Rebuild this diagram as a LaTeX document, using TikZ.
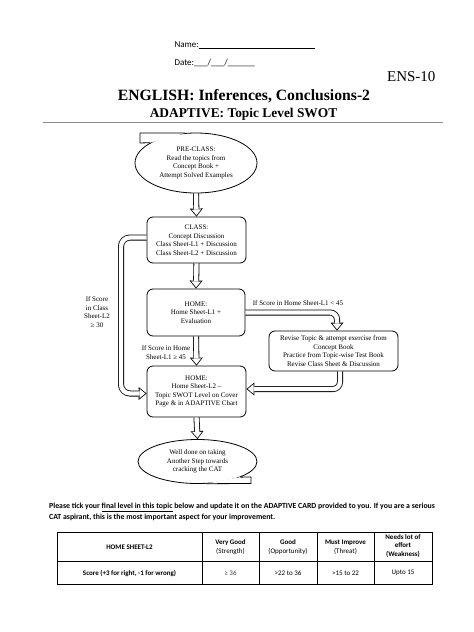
\documentclass[tikz,border=0pt]{standalone}
\usepackage{fontspec}
\setmainfont{Liberation Serif}
\newfontfamily\carlito{Carlito}
\usetikzlibrary{calc}
\usetikzlibrary{arrows.meta}
\usetikzlibrary{shapes.geometric}

\begin{document}
\begin{tikzpicture}[%
  x=1pt, y=-1pt,
  box/.style={draw, line width=0.8pt, rounded corners=6pt, align=center,
    inner sep=2pt, font=\fontsize{7}{8.5}\selectfont},
  bubble/.style={ellipse, draw, line width=0.8pt, fill=white, inner sep=0pt,
    align=center, font=\fontsize{7}{8.5}\selectfont},
  tab/.style={fill=white, line width=0.8pt},
  pipe/.style={line width=6pt, rounded corners=7pt,
    -{Triangle[length=8pt, width=13pt, line width=0pt]},
    postaction={draw=white, line width=4.4pt, shorten >=1.3pt,
      -{Triangle[length=5.8pt, width=9.5pt, line width=0pt]}}},
  note/.style={align=center, font=\fontsize{7}{8.5}\selectfont},
  cell/.style={align=center, font=\carlito\fontsize{7}{8.5}\selectfont},
  grid/.style={line width=0.8pt}
]

  \useasboundingbox (0,0) rectangle (474,632);

  % header
  \node[anchor=west, font=\carlito\fontsize{9}{11}\selectfont] (name) at (171,45)
    {Name:\rule[-1pt]{116pt}{0.6pt}};
  \node[anchor=west, font=\carlito\fontsize{9}{11}\selectfont] (date) at (171,63)
    {Date:\_\_\_/\_\_\_/\_\_\_\_\_\_};
  \node[anchor=east, font=\fontsize{15}{18}\selectfont] (code) at (439,77) {ENS-10};
  \node[font=\bfseries\fontsize{15.7}{19}\selectfont] (title) at (244,96)
    {ENGLISH: Inferences, Conclusions-2};
  \node[font=\bfseries\fontsize{13.4}{16}\selectfont] (subtitle) at (243.5,114)
    {ADAPTIVE: Topic Level SWOT};
  \draw[black!45, line width=0.6pt] (43,122) -- (443,122);

  % flow
  \node[bubble, minimum width=122pt, minimum height=60pt] (pre) at (196,163)
    {PRE-CLASS:\\Read the topics from\\Concept Book +\\Attempt Solved Examples};
  \filldraw[tab] (pre.110) -- (140,133) -- (140,143) -- (pre.156);

  \node[box, minimum width=99pt, minimum height=46pt] (cls) at (196.5,240)
    {CLASS:\\Concept Discussion\\Class Sheet-L1 + Discussion\\Class Sheet-L2 + Discussion};
  \node[box, minimum width=98pt, minimum height=47pt] (home) at (196,312.5)
    {HOME:\\Home Sheet-L1 +\\Evaluation};
  \node[box, minimum width=129pt, minimum height=40pt] (rev) at (333.5,351)
    {Revise Topic \& attempt exercise from\\Concept Book\\Practice from Topic-wise Test Book\\Revise Class Sheet \& Discussion};
  \node[box, minimum width=99pt, minimum height=51pt] (home2) at (196.5,391.5)
    {HOME:\\Home Sheet-L2 --\\Topic SWOT Level on Cover\\Page \& in ADAPTIVE Chart};

  \node[bubble, minimum width=119pt, minimum height=44pt] (fin) at (197.5,461.5)
    {Well done on taking\\Another Step towards\\cracking the CAT};
  \filldraw[tab] (fin.-20) -- (251,477) -- (251,483.5) -- (fin.-70);

  \draw[pipe] (pre.south) -- (cls.north);
  \draw[pipe] (cls.south) -- (home.north);
  \draw[pipe] (home.south) -- (home2.north);
  \draw[pipe] (home2.south) -- (fin.north);
  \draw[pipe] (home.east) -| ([xshift=3.5pt]rev.north);
  \draw[pipe] ([xshift=6.5pt]rev.south) |- ([yshift=2.5pt]home2.east);
  \coordinate (bend) at (121,393.5);
  \draw[pipe, rounded corners=9pt] ([yshift=2.5pt]cls.west) -| (bend) -- ([yshift=-2pt]home2.west);

  \node[note] (lowlab) at (298,303) {If Score in Home Sheet-L1 < 45};
  \node[note] (highlab) at (166,352.5) {If Score in Home\\Sheet-L1 ≥ 45};
  \node[note] (classlab) at (97,312) {If Score\\in Class\\Sheet-L2\\≥ 30};

  % instruction and table
  \node[anchor=north west, align=left, inner sep=0pt,
    font=\carlito\bfseries\fontsize{7.8}{10.5}\selectfont] (task) at (49,503)
    {Please tick your \underline{final level in this topic} below and update it on the ADAPTIVE CARD provided to you. If you are a serious\\
     CAT aspirant, this is the most important aspect for your improvement.};

  \draw[grid] (57,532) rectangle (432,584);
  \draw[grid] (57,561) -- (432,561);
  \foreach \x in {202,259,317,374}
    \draw[grid] (\x,532) -- (\x,584);

  \node[cell, font=\carlito\bfseries\fontsize{7}{8.5}\selectfont] (hs) at (129.5,547) {HOME SHEET-L2};
  \node[cell] (vg) at (230.5,547) {\textbf{Very Good}\\(Strength)};
  \node[cell] (gd) at (288,547) {\textbf{Good}\\(Opportunity)};
  \node[cell] (mi) at (345.5,547) {\textbf{Must Improve}\\(Threat)};
  \node[cell] (nl) at (403,546) {\textbf{Needs lot of}\\\textbf{effort}\\\textbf{(Weakness)}};

  \node[cell, font=\carlito\bfseries\fontsize{7}{8.5}\selectfont] (sc) at (129.5,573) {Score (+3 for right, -1 for wrong)};
  \node[cell, black!75] (s1) at (230.5,573) {≥ 36};
  \node[cell] (s2) at (288,573) {>22 to 36};
  \node[cell] (s3) at (345.5,573) {>15 to 22};
  \node[cell] (s4) at (403,573) {Upto 15};

\end{tikzpicture}
\end{document}
